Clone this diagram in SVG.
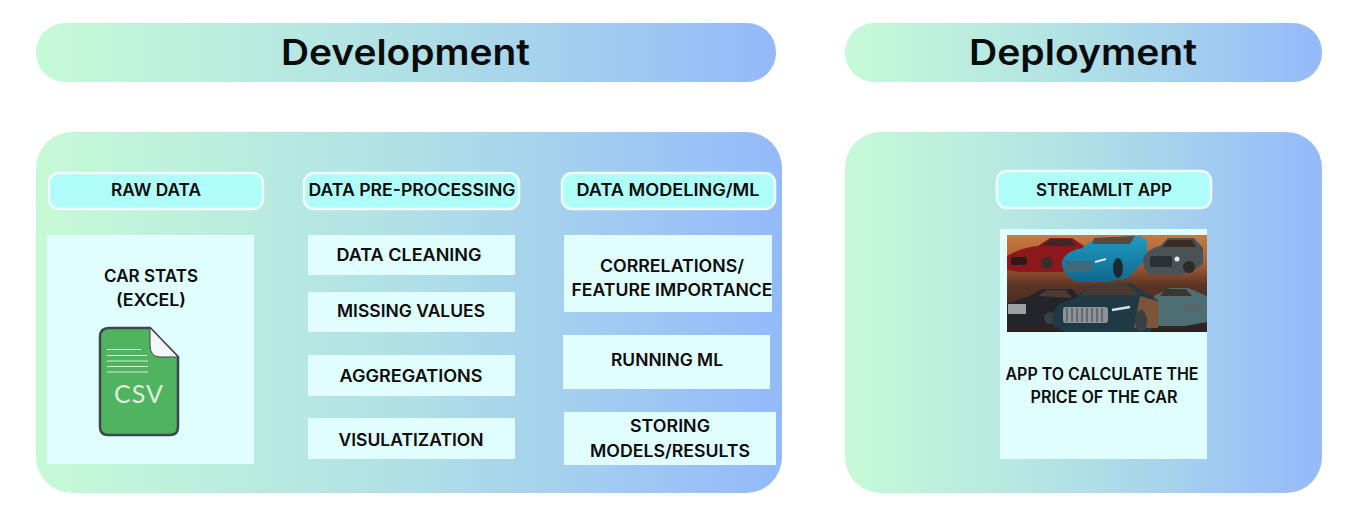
<svg xmlns="http://www.w3.org/2000/svg" width="1358" height="517" viewBox="0 0 1358 517">
<defs>
<linearGradient id="g" x1="0" y1="0" x2="1" y2="0"><stop offset="0" stop-color="#c6fad6"/><stop offset="0.5" stop-color="#b0e0e6"/><stop offset="1" stop-color="#94b9fa"/></linearGradient>
<linearGradient id="floor" x1="0" y1="0" x2="0" y2="1"><stop offset="0" stop-color="#c77a40"/><stop offset="0.3" stop-color="#a85c34"/><stop offset="0.52" stop-color="#5a3526"/><stop offset="1" stop-color="#2a2220"/></linearGradient>
<linearGradient id="blue" x1="0" y1="0" x2="0" y2="1"><stop offset="0" stop-color="#1e9cc4"/><stop offset="1" stop-color="#12678c"/></linearGradient>
<clipPath id="photo"><rect x="1007" y="235" width="200" height="97"/></clipPath>
</defs>
<style>
text{font-family:"Inter","Liberation Sans",sans-serif;fill:#0b0b0b;text-anchor:middle}
.h{font-size:36px;font-weight:600}
.t{font-size:17px;font-weight:600}
.head{fill:#aefdf8;stroke:#eefcfb;stroke-width:2.5}
.card{fill:#e0fefd}
.band{fill:url(#g)}
.ln{stroke:#d8f0d8;stroke-width:1.2}
.csv{font-family:"Lato",sans-serif;font-size:25px;font-weight:400;fill:#e2ecdf;letter-spacing:1px}
</style>
<g id="development-title"><rect class="band" x="36" y="23" width="740" height="59" rx="29"/><text class="h" x="405.500" y="65" textLength="249" lengthAdjust="spacingAndGlyphs">Development</text></g>
<g id="deployment-title"><rect class="band" x="845" y="23" width="477" height="59" rx="29"/><text class="h" x="1083" y="65" textLength="228" lengthAdjust="spacingAndGlyphs">Deployment</text></g>
<g id="development-panel"><rect class="band" x="36" y="132" width="746" height="361" rx="36"/></g>
<g id="deployment-panel"><rect class="band" x="845" y="132" width="477" height="361" rx="36"/></g>

<g id="raw-data"><rect class="head" x="49" y="173" width="214" height="36" rx="10"/><text class="t" x="156" y="196" textLength="90" lengthAdjust="spacingAndGlyphs">RAW DATA</text></g>
<g id="data-pre-processing"><rect class="head" x="304" y="173" width="215" height="36" rx="10"/><text class="t" x="412" y="196" textLength="207" lengthAdjust="spacingAndGlyphs">DATA PRE-PROCESSING</text></g>
<g id="data-modeling"><rect class="head" x="562" y="173" width="213" height="36" rx="10"/><text class="t" x="668" y="196" textLength="183" lengthAdjust="spacingAndGlyphs">DATA MODELING/ML</text></g>
<g id="streamlit-app"><rect class="head" x="997" y="171" width="214" height="37" rx="10"/><text class="t" x="1104" y="196" textLength="136" lengthAdjust="spacingAndGlyphs">STREAMLIT APP</text></g>

<g id="car-stats">
<rect class="card" x="47" y="235" width="207" height="229"/>
<text class="t" x="151" y="282" textLength="94" lengthAdjust="spacingAndGlyphs">CAR STATS</text>
<text class="t" x="151" y="306" textLength="70" lengthAdjust="spacingAndGlyphs">(EXCEL)</text>
<path d="M109 328H150L178 357V427Q178 435 170 435H108Q100 435 100 427V337Q100 328 109 328Z" fill="#4fb35f" stroke="#3c4650" stroke-width="2.500"/>
<path d="M150 328L178 357H160Q150 357 150 345Z" fill="#f6f6f6" stroke="#3c4650" stroke-width="1"/>
<path class="ln" d="M107 349.500H141M107 355.500H147M107 361H148M107 366.500H148M107 372H148"/>
<text class="csv" x="139" y="403">CSV</text>
</g>

<g id="data-cleaning"><rect class="card" x="308" y="235" width="207" height="40"/><text class="t" x="409" y="261" textLength="145" lengthAdjust="spacingAndGlyphs">DATA CLEANING</text></g>
<g id="missing-values"><rect class="card" x="308" y="292" width="207" height="40"/><text class="t" x="411" y="317" textLength="148" lengthAdjust="spacingAndGlyphs">MISSING VALUES</text></g>
<g id="aggregations"><rect class="card" x="308" y="355" width="207" height="41"/><text class="t" x="411" y="382" textLength="143" lengthAdjust="spacingAndGlyphs">AGGREGATIONS</text></g>
<g id="visulatization"><rect class="card" x="308" y="418" width="207" height="41"/><text class="t" x="411" y="446" textLength="145" lengthAdjust="spacingAndGlyphs">VISULATIZATION</text></g>

<g id="correlations"><rect class="card" x="564" y="235" width="208" height="77"/><text class="t" x="672" y="272" textLength="144" lengthAdjust="spacingAndGlyphs">CORRELATIONS/</text><text class="t" x="672" y="296" textLength="201" lengthAdjust="spacingAndGlyphs">FEATURE IMPORTANCE</text></g>
<g id="running-ml"><rect class="card" x="563" y="335" width="207" height="54"/><text class="t" x="667" y="366" textLength="112" lengthAdjust="spacingAndGlyphs">RUNNING ML</text></g>
<g id="storing-models"><rect class="card" x="564" y="412" width="212" height="53"/><text class="t" x="670" y="432" textLength="80" lengthAdjust="spacingAndGlyphs">STORING</text><text class="t" x="670" y="457" textLength="160" lengthAdjust="spacingAndGlyphs">MODELS/RESULTS</text></g>

<g id="app-card">
<rect class="card" x="1000" y="229" width="207" height="230"/>
<g clip-path="url(#photo)">
<rect x="1007" y="235" width="200" height="97" fill="url(#floor)"/>
<path d="M1007 256Q1020 248 1038 246L1050 238H1072L1084 246L1078 262L1062 272H1020L1007 270Z" fill="#8c181c"/>
<path d="M1040 246L1052 239H1070L1076 246Z" fill="#3b2a28"/>
<rect x="1011" y="257" width="16" height="8" rx="2" fill="#2a1c1c"/>
<circle cx="1047" cy="263" r="6" fill="#3a2e2a"/>
<path d="M1062 262Q1064 252 1082 248L1096 238L1140 236L1147 240V258L1128 278L1108 282H1078Q1062 276 1062 262Z" fill="url(#blue)"/>
<path d="M1094 238L1135 236L1130 244H1092Z" fill="#5a4a3c"/>
<rect x="1065" y="261" width="27" height="11" rx="2" fill="#3f6a7c"/>
<path d="M1095 262L1106 259" stroke="#cfeef5" stroke-width="2"/>
<ellipse cx="1118" cy="268" rx="5" ry="10" fill="#1c2a30"/>
<path d="M1143 260Q1145 250 1160 246L1168 238H1194L1203 248V264L1192 272L1178 275H1150Q1143 270 1143 260Z" fill="#4a5256"/>
<path d="M1168 240H1192L1196 247H1162Z" fill="#3a2c24"/>
<rect x="1150" y="256" width="22" height="11" rx="2" fill="#2a3034"/>
<circle cx="1177" cy="259" r="2.500" fill="#dfe8ea"/>
<circle cx="1189" cy="267" r="6" fill="#2a2a2a"/>
<path d="M1154 296L1170 288H1188L1207 296V322L1185 326H1155Z" fill="#4d6e72"/>
<path d="M1165 289H1186L1192 296H1160Z" fill="#3b3632"/>
<rect x="1184" y="304" width="19" height="8" rx="1" fill="#59666a"/>
<path d="M1007 304L1030 296L1042 289H1072L1082 300V318L1070 326L1007 328Z" fill="#23252a"/>
<path d="M1038 296L1046 290H1066L1072 298Z" fill="#4a3a30"/>
<rect x="1008" y="304" width="18" height="10" fill="#9ba0a3"/>
<circle cx="1050" cy="318" r="6" fill="#3a3f44"/>
<path d="M1053 312Q1058 302 1075 298L1090 286L1130 283L1150 296L1158 300V320L1150 332H1066L1053 326Z" fill="#1f3a44"/>
<path d="M1088 288L1104 284H1128L1140 295H1082Z" fill="#4a3a34"/>
<path d="M1140 296L1158 301V328H1134Z" fill="#7a5538"/>
<rect x="1063" y="307" width="45" height="16" rx="3" fill="#8d9498"/>
<path d="M1067 308V322M1072 308V322M1077 308V322M1082 308V322M1087 308V322M1092 308V322M1097 308V322M1102 308V322" stroke="#3a4044"/>
<path d="M1112 310L1130 307" stroke="#cfe4ea" stroke-width="2.500"/>
<ellipse cx="1141" cy="321" rx="6" ry="11" fill="#3a3f44"/>
</g>
<text class="t" x="1102" y="380" textLength="193" lengthAdjust="spacingAndGlyphs">APP TO CALCULATE THE</text>
<text class="t" x="1104" y="403" textLength="147" lengthAdjust="spacingAndGlyphs">PRICE OF THE CAR</text>
</g>
<g id="connectors"></g>
</svg>
